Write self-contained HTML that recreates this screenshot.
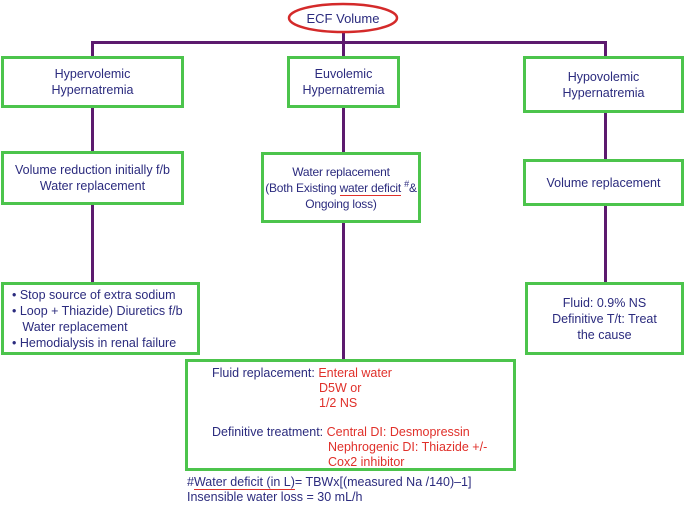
<!DOCTYPE html>
<html><head><style>
body{margin:0;width:685px;height:507px;background:#fff;position:relative;overflow:hidden;font-family:"Liberation Sans",Arial,sans-serif;color:#2b2b7e;font-size:12.5px}
.b{position:absolute;border:3px solid #4cc44c;box-sizing:border-box;display:flex;align-items:center;justify-content:center;text-align:center;line-height:16px;background:#fff}
.l{position:absolute;background:#5c1a6e}
.r{color:#e0302a}
.t{position:absolute;white-space:nowrap;line-height:15px}
</style></head><body>
<div class="l" style="left:91px;top:41px;width:516px;height:3px"></div>
<div class="l" style="left:342px;top:30px;width:3px;height:28px"></div>
<div class="l" style="left:91px;top:41px;width:3px;height:243px"></div>
<div class="l" style="left:342px;top:100px;width:3px;height:262px"></div>
<div class="l" style="left:604px;top:41px;width:3px;height:243px"></div>
<svg style="position:absolute;left:286px;top:2px" width="116" height="34"><ellipse cx="57" cy="16" rx="54" ry="14" fill="#fff" stroke="#d42a2a" stroke-width="2.5"/><text x="57" y="21" text-anchor="middle" font-family="Liberation Sans" font-size="13" fill="#2b2b7e">ECF Volume</text></svg>
<div class="b" style="left:1px;top:56px;width:183px;height:52px"><div>Hypervolemic<br>Hypernatremia</div></div>
<div class="b" style="left:287px;top:56px;width:113px;height:52px"><div>Euvolemic<br>Hypernatremia</div></div>
<div class="b" style="left:523px;top:56px;width:161px;height:57px"><div>Hypovolemic<br>Hypernatremia</div></div>
<div class="b" style="left:1px;top:151px;width:183px;height:54px"><div>Volume reduction initially f/b<br>Water replacement</div></div>
<div class="b" style="left:261px;top:152px;width:160px;height:71px"><div style="white-space:nowrap;font-size:12px;letter-spacing:-0.2px">Water replacement<br>(Both Existing <span style="border-bottom:1.5px solid #e0302a">water deficit</span> <sup style="font-size:9px;line-height:0">#</sup>&amp;<br>Ongoing loss)</div></div>
<div class="b" style="left:523px;top:159px;width:161px;height:47px"><div>Volume replacement</div></div>
<div class="b" style="left:1px;top:282px;width:199px;height:73px;justify-content:flex-start;text-align:left;padding-left:8px">
<div>• Stop source of extra sodium<br>• Loop + Thiazide) Diuretics f/b<br>&nbsp;&nbsp;&nbsp;Water replacement<br>• Hemodialysis in renal failure</div></div>
<div class="b" style="left:525px;top:282px;width:159px;height:73px"><div>Fluid: 0.9% NS<br>Definitive T/t: Treat<br>the cause</div></div>
<div class="b" style="left:185px;top:359px;width:331px;height:112px"></div>
<div class="t" style="left:212px;top:366px">Fluid replacement: <span class="r">Enteral water</span></div>
<div class="t r" style="left:319px;top:381px">D5W or<br>1/2 NS</div>
<div class="t" style="left:212px;top:425px">Definitive treatment: <span class="r">Central DI: Desmopressin</span></div>
<div class="t r" style="left:328px;top:440px">Nephrogenic DI: Thiazide +/-<br>Cox2 inhibitor</div>
<div class="t" style="left:187px;top:475px;line-height:15px">#<span style="border-bottom:1.5px solid #e0302a;line-height:12px">Water deficit (in L)</span>= TBWx[(measured Na /140)–1]<br>Insensible water loss = 30 mL/h</div>
</body></html>
